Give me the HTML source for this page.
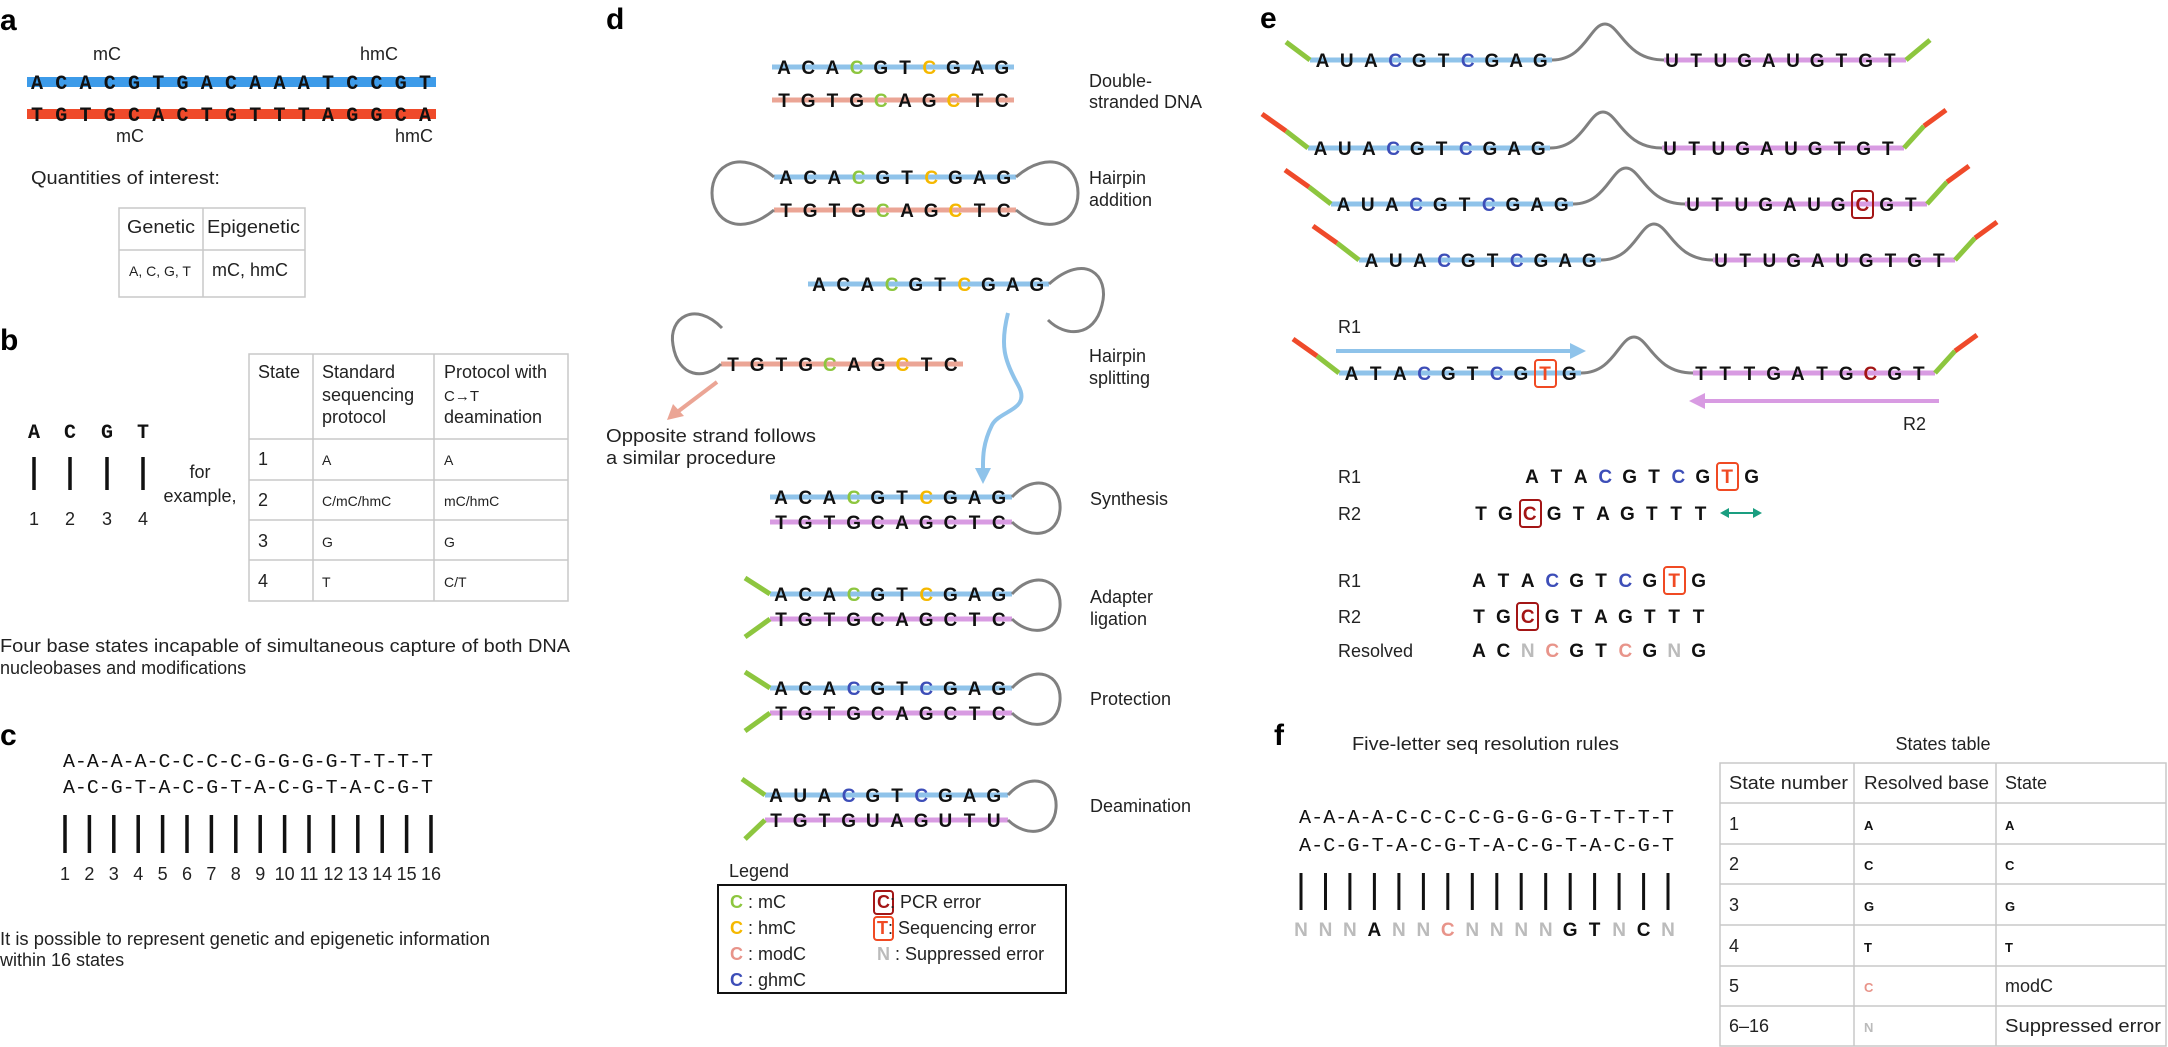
<!DOCTYPE html>
<html><head><meta charset="utf-8"><style>
html,body{margin:0;padding:0;background:#fff;}
svg{display:block;font-family:"Liberation Sans",sans-serif;}
.lab{font-weight:bold;font-size:30px;}
.t{font-size:18px;fill:#222;}
.dna{font-family:"Liberation Sans",sans-serif;font-weight:bold;font-size:19px;text-anchor:middle;fill:#111;}
.mono{font-family:"Liberation Mono",monospace;font-size:20px;font-weight:bold;text-anchor:middle;fill:#111;}
.g{fill:#8dc63f}.y{fill:#f5b800}.p{fill:#e8948a}.b{fill:#3d4eb8}.r{fill:#a31515}.o{fill:#f04a23}.n{fill:#bbb}
</style></head><body>
<svg width="2168" height="1047" viewBox="0 0 2168 1047" xmlns="http://www.w3.org/2000/svg">
<!-- PANEL A -->
<text class="lab" x="0" y="30">a</text>
<text class="t" x="107" y="60" text-anchor="middle">mC</text>
<text class="t" x="379" y="60" text-anchor="middle">hmC</text>
<rect x="27" y="77" width="409" height="10" fill="#3d9be9"/>
<rect x="27" y="109" width="409" height="10" fill="#ef4a2a"/>
<text class="mono" y="89" x="37 61.25 85.5 109.75 134 158.25 182.5 206.75 231 255.25 279.5 303.75 328 352.25 376.5 400.75 425">ACACGTGACAAATCCGT</text>
<text class="mono" y="121" x="37 61.25 85.5 109.75 134 158.25 182.5 206.75 231 255.25 279.5 303.75 328 352.25 376.5 400.75 425">TGTGCACTGTTTAGGCA</text>
<text class="t" x="130" y="142" text-anchor="middle">mC</text>
<text class="t" x="414" y="142" text-anchor="middle">hmC</text>
<text class="t" x="31" y="184" textLength="189" lengthAdjust="spacingAndGlyphs">Quantities of interest:</text>
<g fill="none" stroke="#c8c8c8" stroke-width="1.5">
<rect x="119" y="208" width="186" height="89"/>
<line x1="119" y1="250" x2="305" y2="250"/><line x1="203" y1="208" x2="203" y2="297"/>
</g>
<text class="t" x="127" y="233" textLength="68" lengthAdjust="spacingAndGlyphs">Genetic</text>
<text class="t" x="207" y="233" textLength="93" lengthAdjust="spacingAndGlyphs">Epigenetic</text>
<text x="129" y="276" font-size="14" fill="#222">A, C, G, T</text>
<text class="t" x="212" y="276">mC, hmC</text>

<!-- PANEL B -->
<text class="lab" x="0" y="350">b</text>
<text class="mono" y="438" x="34 70 107 143" font-weight="normal">ACGT</text>
<path d="M34,457V490M70,457V490M107,457V490M143,457V490" stroke="#111" stroke-width="3.5"/>
<text class="t" y="525" text-anchor="middle" x="34 70 107 143">1234</text>
<text class="t" x="200" y="478" text-anchor="middle">for</text>
<text class="t" x="200" y="502" text-anchor="middle">example,</text>
<g fill="none" stroke="#c8c8c8" stroke-width="1.5">
<rect x="249" y="354" width="319" height="247"/>
<line x1="313" y1="354" x2="313" y2="601"/><line x1="434" y1="354" x2="434" y2="601"/>
<line x1="249" y1="439" x2="568" y2="439"/><line x1="249" y1="480" x2="568" y2="480"/>
<line x1="249" y1="520" x2="568" y2="520"/><line x1="249" y1="560" x2="568" y2="560"/>
</g>
<text class="t" x="258" y="378">State</text>
<text class="t" x="322" y="378">Standard</text>
<text class="t" x="322" y="401">sequencing</text>
<text class="t" x="322" y="423">protocol</text>
<text class="t" x="444" y="378">Protocol with</text>
<text x="444" y="401" font-size="15" fill="#222">C→T</text>
<text class="t" x="444" y="423">deamination</text>
<g font-size="14" fill="#222">
<text class="t" x="258" y="465">1</text><text x="322" y="465">A</text><text x="444" y="465">A</text>
<text class="t" x="258" y="506">2</text><text x="322" y="506">C/mC/hmC</text><text x="444" y="506">mC/hmC</text>
<text class="t" x="258" y="547">3</text><text x="322" y="547">G</text><text x="444" y="547">G</text>
<text class="t" x="258" y="587">4</text><text x="322" y="587">T</text><text x="444" y="587">C/T</text>
</g>
<text class="t" x="0" y="652" textLength="570" lengthAdjust="spacingAndGlyphs">Four base states incapable of simultaneous capture of both  DNA</text>
<text class="t" x="0" y="674">nucleobases and modifications</text>

<!-- PANEL C -->
<text class="lab" x="0" y="745">c</text>
<text x="63" y="767" font-family="Liberation Mono,monospace" font-size="19" fill="#111" textLength="370" lengthAdjust="spacingAndGlyphs">A-A-A-A-C-C-C-C-G-G-G-G-T-T-T-T</text>
<text x="63" y="793" font-family="Liberation Mono,monospace" font-size="19" fill="#111" textLength="370" lengthAdjust="spacingAndGlyphs">A-C-G-T-A-C-G-T-A-C-G-T-A-C-G-T</text>
<path d="M65,815V853M89.4,815V853M113.8,815V853M138.2,815V853M162.6,815V853M187,815V853M211.4,815V853M235.8,815V853M260.2,815V853M284.6,815V853M309,815V853M333.4,815V853M357.8,815V853M382.2,815V853M406.6,815V853M431,815V853" stroke="#111" stroke-width="3.5"/>
<g class="t" text-anchor="middle">
<text x="65" y="880">1</text><text x="89.4" y="880">2</text><text x="113.8" y="880">3</text><text x="138.2" y="880">4</text><text x="162.6" y="880">5</text><text x="187" y="880">6</text><text x="211.4" y="880">7</text><text x="235.8" y="880">8</text><text x="260.2" y="880">9</text><text x="284.6" y="880">10</text><text x="309" y="880">11</text><text x="333.4" y="880">12</text><text x="357.8" y="880">13</text><text x="382.2" y="880">14</text><text x="406.6" y="880">15</text><text x="431" y="880">16</text>
</g>
<text class="t" x="0" y="945" textLength="490" lengthAdjust="spacingAndGlyphs">It is possible to represent genetic and epigenetic information</text>
<text class="t" x="0" y="966">within 16 states</text>

<!-- PANEL D -->
<text class="lab" x="606" y="29">d</text>
<g stroke-width="5" fill="none">
<line x1="772" y1="67" x2="1014" y2="67" stroke="#8fc3ea"/>
<line x1="772" y1="100" x2="1014" y2="100" stroke="#eba595"/>
<line x1="774" y1="177" x2="1016" y2="177" stroke="#8fc3ea"/>
<line x1="774" y1="210" x2="1016" y2="210" stroke="#eba595"/>
<line x1="808" y1="284" x2="1049" y2="284" stroke="#8fc3ea"/>
<line x1="721" y1="364" x2="963" y2="364" stroke="#eba595"/>
<line x1="770" y1="497" x2="1012" y2="497" stroke="#8fc3ea"/>
<line x1="770" y1="522" x2="1012" y2="522" stroke="#d89be2"/>
<line x1="770" y1="594" x2="1012" y2="594" stroke="#8fc3ea"/>
<line x1="770" y1="619" x2="1012" y2="619" stroke="#d89be2"/>
<line x1="770" y1="688" x2="1012" y2="688" stroke="#8fc3ea"/>
<line x1="770" y1="713" x2="1012" y2="713" stroke="#d89be2"/>
<line x1="765" y1="795" x2="1008" y2="795" stroke="#8fc3ea"/>
<line x1="765" y1="820" x2="1008" y2="820" stroke="#d89be2"/>
</g>
<g stroke="#808080" stroke-width="3" fill="none">
<path d="M774,177 C740,148 712,165 712,193 C712,221 740,238 774,210"/>
<path d="M1016,177 C1050,148 1078,165 1078,193 C1078,221 1050,238 1016,210"/>
<path d="M1049,284 C1085,252 1110,275 1102,305 C1094,338 1065,337 1048,320"/>
<path d="M722,328 C695,300 668,318 673,345 C678,378 705,380 721,364"/>
<path d="M1012,497 C1035,472 1062,483 1060,510 C1058,537 1030,540 1012,522"/>
<path d="M1012,594 C1035,569 1062,580 1060,607 C1058,634 1030,637 1012,619"/>
<path d="M1012,688 C1035,663 1062,674 1060,701 C1058,728 1030,731 1012,713"/>
<path d="M1008,795 C1031,770 1058,781 1056,808 C1054,835 1026,838 1008,820"/>
</g>
<g stroke="#8dc63f" stroke-width="5" fill="none">
<path d="M745,578 L770,594 M770,619 L745,637"/>
<path d="M745,672 L770,688 M770,713 L745,731"/>
<path d="M742,779 L765,795 M765,820 L745,839"/>
</g>
<text class="dna" y="74" x="784 808.2 832.4 856.6 880.8 905 929.2 953.4 977.6 1001.8">ACA<tspan class="g">C</tspan>GT<tspan class="y">C</tspan>GAG</text>
<text class="dna" y="107" x="784 808.2 832.4 856.6 880.8 905 929.2 953.4 977.6 1001.8">TGTG<tspan class="g">C</tspan>AG<tspan class="y">C</tspan>TC</text>
<text class="dna" y="184" x="786 810.2 834.4 858.6 882.8 907 931.2 955.4 979.6 1003.8">ACA<tspan class="g">C</tspan>GT<tspan class="y">C</tspan>GAG</text>
<text class="dna" y="217" x="786 810.2 834.4 858.6 882.8 907 931.2 955.4 979.6 1003.8">TGTG<tspan class="g">C</tspan>AG<tspan class="y">C</tspan>TC</text>
<text class="dna" y="291" x="819 843.2 867.4 891.6 915.8 940 964.2 988.4 1012.6 1036.8">ACA<tspan class="g">C</tspan>GT<tspan class="y">C</tspan>GAG</text>
<text class="dna" y="371" x="733 757.2 781.4 805.6 829.8 854 878.2 902.4 926.6 950.8">TGTG<tspan class="g">C</tspan>AG<tspan class="y">C</tspan>TC</text>
<text class="dna" y="504" x="781 805.2 829.4 853.6 877.8 902 926.2 950.4 974.6 998.8">ACA<tspan class="g">C</tspan>GT<tspan class="y">C</tspan>GAG</text>
<text class="dna" y="529" x="781 805.2 829.4 853.6 877.8 902 926.2 950.4 974.6 998.8">TGTGCAGCTC</text>
<text class="dna" y="601" x="781 805.2 829.4 853.6 877.8 902 926.2 950.4 974.6 998.8">ACA<tspan class="g">C</tspan>GT<tspan class="y">C</tspan>GAG</text>
<text class="dna" y="626" x="781 805.2 829.4 853.6 877.8 902 926.2 950.4 974.6 998.8">TGTGCAGCTC</text>
<text class="dna" y="695" x="781 805.2 829.4 853.6 877.8 902 926.2 950.4 974.6 998.8">ACA<tspan class="b">C</tspan>GT<tspan class="b">C</tspan>GAG</text>
<text class="dna" y="720" x="781 805.2 829.4 853.6 877.8 902 926.2 950.4 974.6 998.8">TGTGCAGCTC</text>
<text class="dna" y="802" x="776 800.2 824.4 848.6 872.8 897 921.2 945.4 969.6 993.8">AUA<tspan class="b">C</tspan>GT<tspan class="b">C</tspan>GAG</text>
<text class="dna" y="827" x="776 800.2 824.4 848.6 872.8 897 921.2 945.4 969.6 993.8">TGTGUAGUTU</text>
<!-- arrows d -->
<g stroke="#eba595" stroke-width="4" fill="none"><line x1="717" y1="382" x2="676" y2="413"/></g>
<polygon points="667,420 673,404 684,416" fill="#eba595"/>
<path d="M1008,313 C1000,345 1004,360 1018,385 C1032,410 1000,410 992,425 C982,445 983,460 983,470" stroke="#8fc3ea" stroke-width="4" fill="none"/>
<polygon points="975,468 991,468 983,484" fill="#8fc3ea"/>
<text class="t" x="606" y="442" textLength="210" lengthAdjust="spacingAndGlyphs">Opposite strand follows</text>
<text class="t" x="606" y="464" textLength="170" lengthAdjust="spacingAndGlyphs">a similar procedure</text>
<g class="t">
<text x="1089" y="87">Double-</text><text x="1089" y="108">stranded DNA</text>
<text x="1089" y="184">Hairpin</text><text x="1089" y="206">addition</text>
<text x="1089" y="362">Hairpin</text><text x="1089" y="384">splitting</text>
<text x="1090" y="505">Synthesis</text>
<text x="1090" y="603">Adapter</text><text x="1090" y="625">ligation</text>
<text x="1090" y="705">Protection</text>
<text x="1090" y="812">Deamination</text>
</g>
<!-- legend -->
<text class="t" x="729" y="877">Legend</text>
<rect x="718" y="885" width="348" height="108" fill="none" stroke="#111" stroke-width="2"/>
<g font-size="18" fill="#222">
<text x="730" y="908"><tspan class="g" font-weight="bold">C</tspan> : mC</text>
<text x="730" y="934"><tspan class="y" font-weight="bold">C</tspan> : hmC</text>
<text x="730" y="960"><tspan class="p" font-weight="bold">C</tspan> : modC</text>
<text x="730" y="986"><tspan class="b" font-weight="bold">C</tspan> : ghmC</text>
<rect x="874" y="891" width="19" height="23" rx="3" fill="none" stroke="#a31515" stroke-width="2"/>
<rect x="874" y="917" width="19" height="23" rx="3" fill="none" stroke="#f04a23" stroke-width="2"/>
<text x="877" y="908"><tspan class="r" font-weight="bold">C</tspan>: PCR error</text>
<text x="877" y="934"><tspan class="o" font-weight="bold">T</tspan>: Sequencing error</text>
<text x="877" y="960"><tspan class="n" font-weight="bold">N</tspan> : Suppressed error</text>
</g>

<!-- PANEL E -->
<text class="lab" x="1260" y="28">e</text>
<g stroke-width="5" fill="none">
<line x1="1310" y1="60" x2="1552" y2="60" stroke="#8fc3ea"/><line x1="1664" y1="60" x2="1906" y2="60" stroke="#d89be2"/>
<line x1="1308" y1="148" x2="1550" y2="148" stroke="#8fc3ea"/><line x1="1662" y1="148" x2="1904" y2="148" stroke="#d89be2"/>
<line x1="1331" y1="204" x2="1573" y2="204" stroke="#8fc3ea"/><line x1="1685" y1="204" x2="1927" y2="204" stroke="#d89be2"/>
<line x1="1359" y1="260" x2="1601" y2="260" stroke="#8fc3ea"/><line x1="1713" y1="260" x2="1955" y2="260" stroke="#d89be2"/>
<line x1="1339" y1="373" x2="1581" y2="373" stroke="#8fc3ea"/><line x1="1693" y1="373" x2="1935" y2="373" stroke="#d89be2"/>
</g>
<g stroke="#808080" stroke-width="3" fill="none">
<path d="M1552,60 C1585,60 1590,24 1605,24 C1620,24 1625,60 1664,60"/>
<path d="M1550,148 C1583,148 1588,112 1603,112 C1618,112 1623,148 1662,148"/>
<path d="M1573,204 C1606,204 1611,168 1626,168 C1641,168 1646,204 1685,204"/>
<path d="M1601,260 C1634,260 1639,224 1654,224 C1669,224 1674,260 1713,260"/>
<path d="M1581,373 C1614,373 1619,337 1634,337 C1649,337 1654,373 1693,373"/>
</g>
<g stroke-width="5" fill="none">
<path d="M1286,42 L1310,60 M1906,60 L1930,40" stroke="#8dc63f"/>
<path d="M1286,131 L1308,148 M1904,148 L1924,126" stroke="#8dc63f"/>
<path d="M1262,114 L1286,131 M1924,126 L1946,110" stroke="#ef4a2a"/>
<path d="M1309,187 L1331,204 M1927,204 L1947,182" stroke="#8dc63f"/>
<path d="M1285,170 L1309,187 M1947,182 L1969,166" stroke="#ef4a2a"/>
<path d="M1337,243 L1359,260 M1955,260 L1975,238" stroke="#8dc63f"/>
<path d="M1313,226 L1337,243 M1975,238 L1997,222" stroke="#ef4a2a"/>
<path d="M1317,356 L1339,373 M1935,373 L1955,351" stroke="#8dc63f"/>
<path d="M1293,339 L1317,356 M1955,351 L1977,335" stroke="#ef4a2a"/>
</g>
<text class="dna" y="67" x="1322.5 1346.7 1370.9 1395.1 1419.3 1443.5 1467.7 1491.9 1516.1 1540.3">AUA<tspan class="b">C</tspan>GT<tspan class="b">C</tspan>GAG</text>
<text class="dna" y="67" x="1672 1696.2 1720.4 1744.6 1768.8 1793 1817.2 1841.4 1865.6 1889.8">UTUGAUGTGT</text>
<text class="dna" y="155" x="1320.5 1344.7 1368.9 1393.1 1417.3 1441.5 1465.7 1489.9 1514.1 1538.3">AUA<tspan class="b">C</tspan>GT<tspan class="b">C</tspan>GAG</text>
<text class="dna" y="155" x="1670 1694.2 1718.4 1742.6 1766.8 1791 1815.2 1839.4 1863.6 1887.8">UTUGAUGTGT</text>
<text class="dna" y="211" x="1343.5 1367.7 1391.9 1416.1 1440.3 1464.5 1488.7 1512.9 1537.1 1561.3">AUA<tspan class="b">C</tspan>GT<tspan class="b">C</tspan>GAG</text>
<text class="dna" y="211" x="1693 1717.2 1741.4 1765.6 1789.8 1814 1838.2 1862.4 1886.6 1910.8">UTUGAUG<tspan class="r">C</tspan>GT</text>
<rect x="1852" y="191" width="21" height="27" rx="3" fill="none" stroke="#a31515" stroke-width="2"/>
<text class="dna" y="267" x="1371.5 1395.7 1419.9 1444.1 1468.3 1492.5 1516.7 1540.9 1565.1 1589.3">AUA<tspan class="b">C</tspan>GT<tspan class="b">C</tspan>GAG</text>
<text class="dna" y="267" x="1721 1745.2 1769.4 1793.6 1817.8 1842 1866.2 1890.4 1914.6 1938.8">UTUGAUGTGT</text>
<text class="dna" y="380" x="1351.5 1375.7 1399.9 1424.1 1448.3 1472.5 1496.7 1520.9 1545.1 1569.3">ATA<tspan class="b">C</tspan>GT<tspan class="b">C</tspan>G<tspan class="o">T</tspan>G</text>
<rect x="1535" y="360" width="21" height="27" rx="3" fill="none" stroke="#f04a23" stroke-width="2"/>
<text class="dna" y="380" x="1701 1725.2 1749.4 1773.6 1797.8 1822 1846.2 1870.4 1894.6 1918.8">TTTGATG<tspan class="r">C</tspan>GT</text>
<text class="t" x="1338" y="333">R1</text>
<line x1="1336" y1="351" x2="1572" y2="351" stroke="#8fc3ea" stroke-width="4"/>
<polygon points="1570,343 1586,351 1570,359" fill="#8fc3ea"/>
<line x1="1939" y1="401" x2="1703" y2="401" stroke="#d89be2" stroke-width="4"/>
<polygon points="1705,393 1689,401 1705,409" fill="#d89be2"/>
<text class="t" x="1903" y="430">R2</text>
<!-- reads -->
<g class="t"><text x="1338" y="483">R1</text><text x="1338" y="520">R2</text>
<text x="1338" y="587">R1</text><text x="1338" y="623">R2</text><text x="1338" y="657">Resolved</text></g>
<text class="dna" y="483" x="1532 1556.4 1580.8 1605.2 1629.6 1654 1678.4 1702.8 1727.2 1751.6">ATA<tspan class="b">C</tspan>GT<tspan class="b">C</tspan>G<tspan class="o">T</tspan>G</text>
<rect x="1717" y="463" width="21" height="27" rx="3" fill="none" stroke="#f04a23" stroke-width="2"/>
<text class="dna" y="520" x="1481 1505.4 1529.8 1554.2 1578.6 1603 1627.4 1651.8 1676.2 1700.6">TG<tspan class="r">C</tspan>GTAGTTT</text>
<rect x="1520" y="500" width="21" height="27" rx="3" fill="none" stroke="#a31515" stroke-width="2"/>
<line x1="1722" y1="513" x2="1758" y2="513" stroke="#1a9e80" stroke-width="2"/>
<polygon points="1720,513 1729,508 1729,518" fill="#1a9e80"/><polygon points="1762,513 1753,508 1753,518" fill="#1a9e80"/>
<text class="dna" y="587" x="1479 1503.4 1527.8 1552.2 1576.6 1601 1625.4 1649.8 1674.2 1698.6">ATA<tspan class="b">C</tspan>GT<tspan class="b">C</tspan>G<tspan class="o">T</tspan>G</text>
<rect x="1664" y="567" width="21" height="27" rx="3" fill="none" stroke="#f04a23" stroke-width="2"/>
<text class="dna" y="623" x="1479 1503.4 1527.8 1552.2 1576.6 1601 1625.4 1649.8 1674.2 1698.6">TG<tspan class="r">C</tspan>GTAGTTT</text>
<rect x="1517" y="603" width="21" height="27" rx="3" fill="none" stroke="#a31515" stroke-width="2"/>
<text class="dna" y="657" x="1479 1503.4 1527.8 1552.2 1576.6 1601 1625.4 1649.8 1674.2 1698.6">AC<tspan class="n">N</tspan><tspan class="p">C</tspan>GT<tspan class="p">C</tspan>G<tspan class="n">N</tspan>G</text>

<!-- PANEL F -->
<text class="lab" x="1274" y="745">f</text>
<text class="t" x="1352" y="750" textLength="267" lengthAdjust="spacingAndGlyphs">Five-letter seq resolution rules</text>
<text class="t" x="1943" y="750" text-anchor="middle">States table</text>
<text x="1299" y="823" font-family="Liberation Mono,monospace" font-size="19" fill="#111" textLength="375" lengthAdjust="spacingAndGlyphs">A-A-A-A-C-C-C-C-G-G-G-G-T-T-T-T</text>
<text x="1299" y="851" font-family="Liberation Mono,monospace" font-size="19" fill="#111" textLength="375" lengthAdjust="spacingAndGlyphs">A-C-G-T-A-C-G-T-A-C-G-T-A-C-G-T</text>
<path d="M1301,873V910M1325.5,873V910M1349.9,873V910M1374.4,873V910M1398.9,873V910M1423.4,873V910M1447.8,873V910M1472.3,873V910M1496.8,873V910M1521.2,873V910M1545.7,873V910M1570.2,873V910M1594.6,873V910M1619.1,873V910M1643.6,873V910M1668,873V910" stroke="#111" stroke-width="3"/>
<text class="dna" y="936" x="1301 1325.5 1349.9 1374.4 1398.9 1423.4 1447.8 1472.3 1496.8 1521.2 1545.7 1570.2 1594.6 1619.1 1643.6 1668"><tspan class="n">NNN</tspan>A<tspan class="n">NN</tspan><tspan class="p">C</tspan><tspan class="n">NNNN</tspan>GT<tspan class="n">N</tspan>C<tspan class="n">N</tspan></text>
<g fill="none" stroke="#c8c8c8" stroke-width="1.5">
<rect x="1720" y="763" width="446" height="283"/>
<line x1="1854" y1="763" x2="1854" y2="1046"/><line x1="1996" y1="763" x2="1996" y2="1046"/>
<line x1="1720" y1="803" x2="2166" y2="803"/><line x1="1720" y1="844" x2="2166" y2="844"/>
<line x1="1720" y1="884" x2="2166" y2="884"/><line x1="1720" y1="925" x2="2166" y2="925"/>
<line x1="1720" y1="966" x2="2166" y2="966"/><line x1="1720" y1="1006" x2="2166" y2="1006"/>
</g>
<g class="t">
<text x="1729" y="789" textLength="119" lengthAdjust="spacingAndGlyphs">State number</text>
<text x="1864" y="789" textLength="125" lengthAdjust="spacingAndGlyphs">Resolved base</text>
<text x="2005" y="789">State</text>
<text x="1729" y="830">1</text><text x="1729" y="870">2</text><text x="1729" y="911">3</text><text x="1729" y="952">4</text><text x="1729" y="992">5</text><text x="1729" y="1032">6–16</text>
<text x="2005" y="992">modC</text><text x="2005" y="1032" textLength="156" lengthAdjust="spacingAndGlyphs">Suppressed error</text>
</g>
<g font-weight="bold" font-size="13" fill="#111">
<text x="1864" y="830">A</text><text x="2005" y="830">A</text>
<text x="1864" y="870">C</text><text x="2005" y="870">C</text>
<text x="1864" y="911">G</text><text x="2005" y="911">G</text>
<text x="1864" y="952">T</text><text x="2005" y="952">T</text>
<text x="1864" y="992" class="p">C</text>
<text x="1864" y="1032" class="n">N</text>
</g>
</svg>
</body></html>
